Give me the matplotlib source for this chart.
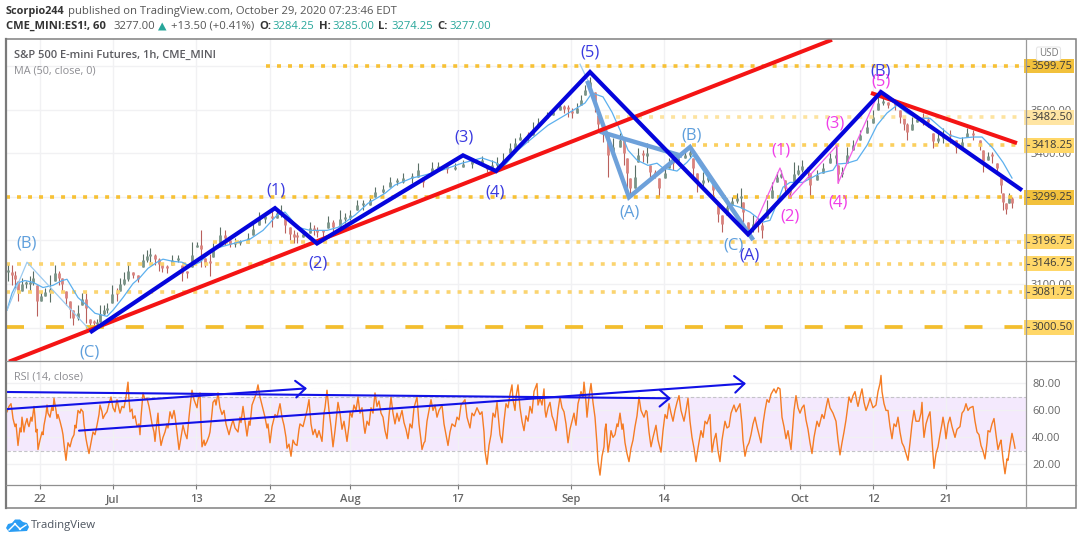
import matplotlib
matplotlib.use("Agg")
import matplotlib.pyplot as plt
from matplotlib.patches import Rectangle, Polygon, FancyBboxPatch, Circle

plt.rcParams["font.family"] = ["Open Sans", "DejaVu Sans"]

# time axis
tick_pos = [40, 113, 196, 270, 350, 458, 571, 664, 800, 873, 946]
tick_names = ["22", "Jul", "13", "22", "Aug", "17", "Sep", "14", "Oct", "12", "21"]

# S&P e-mini candles, sampled
bar_t = [8, 12, 15, 18, 22, 26, 30, 33, 37, 41, 45, 50, 55, 59, 62, 66, 70, 73, 78, 82, 86, 90, 94, 97, 100, 104, 107,
         112, 117, 120, 124, 128, 133, 138, 143, 147, 150, 155, 159, 162, 167, 172, 178, 182, 187, 192, 197, 201, 205,
         210, 213, 220, 225, 230, 235, 240, 248, 253, 259, 265, 272, 277, 281, 285, 290, 294, 297, 303, 310, 314, 317,
         323, 328, 333, 340, 345, 350, 357, 363, 370, 375, 383, 390, 397, 403, 412, 418, 423, 432, 438, 447, 455, 463,
         472, 482, 487, 492, 497, 503, 510, 515, 520, 528, 533, 538, 547, 553, 560, 564, 568, 572, 577, 581, 585, 590,
         595, 598, 603, 608, 613, 620, 624, 627, 630, 635, 638, 643, 647, 650, 655, 659, 665, 669, 673, 678, 685, 690,
         693, 697, 703, 708, 713, 718, 722, 727, 732, 737, 741, 743, 748, 753, 758, 762, 767, 772, 777, 781, 785, 790,
         794, 798, 802, 808, 810, 817, 823, 830, 836, 838, 842, 847, 853, 860, 867, 873, 878, 883, 888, 895, 900, 904,
         907, 912, 917, 923, 928, 933, 938, 943, 950, 956, 962, 967, 973, 980, 983, 988, 992, 997, 1001, 1003, 1006,
         1009, 1012]
bar_high = [3147, 3143, 3131, 3108, 3113, 3108, 3118, 3131, 3097, 3085, 3090, 3120, 3143, 3131, 3115, 3085, 3062, 3040,
            3051, 3079, 3079, 3021, 3017, 3021, 3051, 3051, 3056, 3097, 3090, 3113, 3127, 3150, 3127, 3120, 3170, 3177,
            3182, 3170, 3159, 3148, 3143, 3166, 3166, 3143, 3131, 3196, 3196, 3223, 3159, 3170, 3196, 3230, 3223, 3200,
            3205, 3200, 3216, 3239, 3265, 3262, 3269, 3274, 3281, 3253, 3230, 3223, 3219, 3223, 3242, 3235, 3230, 3223,
            3255, 3246, 3269, 3262, 3269, 3292, 3292, 3304, 3322, 3327, 3345, 3343, 3354, 3354, 3377, 3345, 3379, 3379,
            3372, 3377, 3384, 3389, 3393, 3372, 3384, 3391, 3400, 3423, 3434, 3446, 3448, 3471, 3480, 3494, 3503, 3517,
            3510, 3510, 3503, 3515, 3533, 3556, 3575, 3540, 3487, 3464, 3446, 3434, 3446, 3430, 3389, 3343, 3372, 3411,
            3407, 3423, 3372, 3361, 3343, 3366, 3389, 3391, 3400, 3402, 3414, 3389, 3354, 3356, 3356, 3333, 3281, 3258,
            3297, 3299, 3308, 3320, 3288, 3242, 3258, 3251, 3242, 3292, 3333, 3356, 3361, 3338, 3320, 3379, 3372, 3384,
            3368, 3354, 3361, 3377, 3400, 3418, 3372, 3368, 3414, 3430, 3453, 3476, 3499, 3529, 3529, 3517, 3515, 3499,
            3480, 3469, 3483, 3487, 3492, 3483, 3446, 3446, 3457, 3453, 3430, 3437, 3457, 3453, 3430, 3407, 3402, 3402,
            3377, 3345, 3308, 3285, 3308, 3299]
bar_low = [3108, 3097, 3092, 3062, 3085, 3092, 3085, 3097, 3026, 3062, 3072, 3058, 3108, 3097, 3085, 3051, 3023, 3005,
           3017, 3051, 3010, 3000, 3000, 3005, 3012, 3028, 3033, 3056, 3062, 3085, 3097, 3108, 3115, 3104, 3138, 3150,
           3150, 3143, 3131, 3127, 3125, 3143, 3150, 3108, 3113, 3138, 3184, 3138, 3138, 3118, 3161, 3193, 3189, 3184,
           3184, 3189, 3193, 3212, 3235, 3239, 3230, 3251, 3253, 3216, 3200, 3193, 3193, 3207, 3216, 3212, 3207, 3207,
           3228, 3216, 3230, 3239, 3246, 3269, 3269, 3281, 3299, 3308, 3322, 3327, 3331, 3331, 3345, 3322, 3354, 3361,
           3354, 3361, 3368, 3366, 3377, 3356, 3361, 3361, 3368, 3400, 3411, 3430, 3425, 3441, 3460, 3480, 3487, 3499,
           3492, 3483, 3480, 3492, 3510, 3533, 3551, 3494, 3448, 3425, 3345, 3395, 3414, 3372, 3320, 3299, 3320, 3379,
           3379, 3377, 3343, 3343, 3299, 3343, 3366, 3361, 3377, 3389, 3391, 3343, 3310, 3320, 3333, 3297, 3242, 3219,
           3258, 3281, 3285, 3274, 3242, 3212, 3219, 3219, 3205, 3251, 3297, 3333, 3343, 3304, 3297, 3327, 3350, 3356,
           3343, 3299, 3338, 3354, 3377, 3372, 3331, 3345, 3377, 3407, 3430, 3446, 3469, 3499, 3510, 3503, 3499, 3469,
           3453, 3430, 3453, 3471, 3464, 3460, 3411, 3423, 3423, 3423, 3400, 3414, 3437, 3430, 3407, 3356, 3384, 3377,
           3354, 3308, 3269, 3260, 3285, 3274]

# 50 period moving average
ma_t = [7, 12, 17, 25, 33, 43, 53, 62, 67, 72, 78, 87, 95, 107, 113, 123, 133, 140, 148, 157, 163, 173, 182, 190, 200,
        213, 227, 250, 263, 277, 285, 298, 310, 327, 338, 355, 368, 385, 395, 412, 425, 442, 462, 482, 495, 503, 518,
        532, 548, 565, 585, 592, 603, 612, 620, 628, 637, 648, 657, 663, 677, 687, 693, 703, 713, 727, 740, 750, 763,
        770, 777, 783, 790, 803, 820, 833, 837, 847, 857, 867, 877, 887, 897, 907, 917, 930, 940, 950, 960, 973, 982,
        993, 1003, 1012]
ma_val = [3040, 3079, 3102, 3108, 3104, 3092, 3097, 3108, 3111, 3092, 3069, 3051, 3033, 3026, 3040, 3069, 3101, 3115,
          3136, 3150, 3157, 3152, 3150, 3141, 3150, 3180, 3189, 3203, 3223, 3258, 3265, 3230, 3223, 3223, 3230, 3258,
          3285, 3308, 3327, 3343, 3350, 3361, 3377, 3389, 3379, 3368, 3407, 3434, 3464, 3487, 3515, 3538, 3529, 3494,
          3453, 3407, 3384, 3372, 3377, 3366, 3359, 3379, 3395, 3361, 3327, 3285, 3276, 3265, 3242, 3246, 3285, 3322,
          3333, 3333, 3354, 3361, 3375, 3377, 3384, 3418, 3464, 3492, 3510, 3492, 3480, 3480, 3460, 3441, 3434, 3437,
          3437, 3411, 3379, 3343]

# RSI (14)
rsi_t = [7, 9, 11, 12, 13, 15, 16, 18, 20, 21, 22, 24,
         25, 27, 28, 29, 31, 32, 34, 35, 36, 37, 38, 40,
         42, 43, 44, 46, 47, 48, 50, 52, 53, 54, 56, 57,
         58, 60, 62, 63, 64, 66, 67, 68, 70, 72, 74, 75,
         76, 78, 80, 81, 83, 84, 86, 87, 89, 91, 93, 95,
         97, 99, 100, 102, 103, 105, 107, 109, 111, 113, 115, 116,
         117, 119, 120, 122, 124, 126, 128, 129, 130, 132, 133, 135,
         137, 139, 140, 141, 143, 145, 147, 149, 150, 152, 154, 155,
         156, 158, 159, 161, 163, 165, 167, 168, 170, 172, 174, 175,
         177, 179, 181, 183, 185, 187, 189, 190, 192, 194, 197, 198,
         200, 201, 202, 204, 205, 207, 209, 210, 212, 213, 215, 216,
         218, 220, 222, 224, 226, 229, 231, 233, 235, 238, 240, 241,
         243, 245, 247, 249, 250, 252, 254, 256, 258, 260, 263, 265,
         267, 268, 270, 272, 275, 277, 280, 282, 284, 286, 287, 289,
         291, 292, 293, 295, 297, 299, 300, 303, 305, 307, 309, 311,
         313, 315, 317, 319, 322, 324, 325, 327, 329, 331, 333, 335,
         336, 338, 340, 342, 344, 347, 349, 350, 352, 354, 356, 358,
         360, 362, 364, 365, 367, 369, 371, 373, 375, 377, 379, 381,
         383, 385, 387, 389, 391, 393, 395, 397, 399, 402, 404, 406,
         408, 410, 412, 414, 417, 419, 421, 422, 424, 425, 427, 429,
         431, 433, 435, 437, 439, 442, 444, 446, 448, 450, 452, 455,
         457, 459, 461, 465, 467, 470, 472, 474, 477, 480, 482, 484,
         485, 487, 489, 491, 493, 495, 497, 499, 500, 502, 504, 506,
         508, 510, 512, 513, 515, 516, 518, 520, 522, 524, 526, 528,
         530, 532, 534, 537, 538,
         540, 542, 544, 545, 546, 548, 550, 552, 554, 556, 558, 560,
         562, 564, 566, 568, 570, 572, 574, 575, 576, 578, 581, 583,
         584, 586, 587, 589, 591, 593, 595, 597, 598, 600, 602, 604,
         605, 606, 608, 610, 611, 613, 615, 617, 618, 620, 622, 623,
         625, 627, 629, 631, 633, 635, 637, 639, 641, 644, 646, 647,
         649, 651, 653, 656, 658, 661, 663, 665, 667, 669, 671, 673,
         675, 677, 679, 681, 684, 686, 688, 690, 692, 694, 696, 698,
         701, 703, 705, 707, 710, 711, 712, 714, 716, 718, 720, 722,
         725, 727, 729, 731, 734, 736, 738, 740, 742, 743, 745, 747,
         749, 751, 753, 755, 757, 759, 761, 763, 765, 767, 769, 771,
         774, 776, 778, 780, 782, 784, 786, 788, 791, 793, 794, 796,
         798, 800, 802, 804, 806, 808, 810, 812, 814, 817, 819, 822,
         824, 826, 828, 830, 833, 836, 838, 840, 842, 844, 846, 848,
         849, 851, 853, 855, 857, 858, 860, 862, 864, 866, 868, 870,
         873, 876, 878, 880, 881, 882, 884, 886, 888, 890, 892, 894,
         896, 898, 900, 902, 904, 906, 908, 910, 912, 914, 916, 919,
         921, 922, 923, 924, 926, 928, 930, 932, 934, 936, 938, 940,
         942, 943, 945, 946, 948, 950, 952, 955, 957, 960, 962, 964,
         966, 968, 970, 973, 975, 977, 979, 981, 983, 985, 987, 988,
         990, 992, 994, 996, 998, 1000, 1001, 1003, 1005, 1007, 1008, 1010,
         1012, 1014, 1015]
rsi_val = [59, 63, 65, 60, 54, 48, 50, 34, 47, 44, 55, 44,
           49, 54, 50, 48, 55, 52, 63, 55, 44, 46, 31, 38,
           44, 42, 49, 57, 64, 58, 55, 63, 60, 69, 60, 54,
           57, 52, 46, 42, 35, 23, 30, 36, 33, 39, 42, 49,
           47, 60, 58, 61, 59, 50, 39, 35, 28, 36, 44, 42,
           49, 57, 64, 59, 54, 57, 59, 65, 70, 62, 59, 64,
           68, 61, 58, 63, 62, 70, 81, 68, 59, 61, 54, 56,
           48, 50, 42, 55, 73, 68, 69, 63, 59, 50, 44, 37,
           45, 58, 46, 34, 40, 44, 50, 47, 59, 54, 60, 56,
           44, 31, 40, 49, 43, 39, 55, 62, 75, 68, 62, 68,
           73, 50, 33, 38, 34, 37, 41, 44, 58, 66, 68, 64,
           73, 62, 57, 60, 50, 42, 48, 53, 47, 44, 55, 51,
           63, 52, 41, 52, 49, 64, 68, 72, 79, 70, 61, 55,
           47, 50, 36, 48, 57, 55, 65, 55, 49, 40, 32, 35,
           26, 32, 38, 35, 34, 46, 50, 48, 54, 60, 68, 50,
           42, 46, 40, 45, 37, 58, 62, 75, 60, 48, 33, 45,
           52, 66, 58, 46, 52, 37, 49, 59, 55, 64, 60, 70,
           58, 62, 48, 43, 52, 49, 62, 58, 73, 63, 67, 58,
           55, 45, 39, 56, 70, 58, 50, 58, 52, 60, 51, 46,
           39, 50, 47, 62, 70, 50, 38, 31, 36, 37, 52, 60,
           68, 60, 64, 55, 60, 64, 50, 42, 34, 44, 50, 48,
           55, 53, 64, 68, 55, 47, 58, 56, 62, 57, 59, 44,
           30, 20, 34, 42, 58, 55, 66, 50, 42, 36, 52, 65,
           62, 72, 79, 68, 60, 70, 79, 62, 52, 45, 56, 52,
           63, 58, 74, 80, 64,
           69, 64, 76, 60, 55, 62, 66, 56, 52, 45, 60, 70,
           62, 59, 50, 36, 46, 52, 58, 53, 49, 65, 74, 70,
           81, 66, 55, 70, 80, 66, 55, 35, 22, 12, 26, 33,
           46, 50, 29, 38, 45, 40, 42, 50, 48, 58, 46, 50,
           36, 28, 22, 32, 38, 48, 56, 70, 60, 55, 60, 59,
           44, 33, 40, 49, 38, 29, 45, 57, 54, 65, 58, 52,
           60, 66, 71, 60, 52, 60, 69, 52, 40, 32, 22, 32,
           45, 40, 52, 50, 57, 42, 29, 38, 43, 30, 22, 38,
           52, 47, 48, 58, 64, 59, 62, 65, 50, 38, 26, 33,
           36, 42, 50, 55, 48, 42, 36, 50, 60, 68, 66, 72,
           76, 73, 77, 76, 55, 48, 39, 45, 31, 50, 60, 71,
           62, 58, 62, 64, 53, 46, 36, 28, 40, 52, 48, 57,
           54, 62, 69, 62, 58, 52, 38, 27, 36, 44, 53, 64,
           70, 66, 71, 74, 66, 63, 70, 76, 66, 60, 64, 69,
           62, 64, 74, 80, 86, 74, 65, 60, 60, 48, 39, 50,
           48, 55, 44, 36, 33, 28, 23, 36, 50, 60, 52, 52,
           58, 66, 50, 40, 50, 55, 59, 38, 17, 28, 33, 42,
           50, 55, 46, 39, 50, 55, 48, 40, 46, 48, 58, 60,
           65, 60, 62, 63, 52, 44, 42, 34, 30, 24, 36, 45,
           44, 50, 54, 42, 31, 36, 38, 24, 13, 24, 23, 34,
           43, 36, 32]

# price levels: value, first time position, dash kind, label colour
level_val = [3599.75, 3482.50, 3418.25, 3299.25, 3196.75, 3146.75, 3081.75, 3000.50]
level_start = [266, 605, 670, 6.5, 213, 6.5, 6.5, 6.5]
level_line = ["#f7c136", "#fde3a0", "#fbcf5e", "#f7c136", "#fbd470", "#fbd470", "#fbd470", "#f3be2e"]
level_box = ["#f2c13c", "#ffe5a3", "#ffd768", "#f2c13c", "#ffd768", "#ffd768", "#ffd768", "#ffd768"]

# drawn wave counts and trend lines
wave_t = [90, 275, 317, 463, 496, 590, 748, 881, 1022]
wave_p = [2989, 3274, 3193, 3395, 3359, 3586, 3214, 3540, 3315]
abc_t = [588, 629, 690, 752]
abc_p = [3561, 3299, 3414, 3205]
abc2_t = [602, 680]
abc2_p = [3448, 3395]
red_t = [9, 832]
red_p = [2922, 3660]
red2_t = [871, 1017]
red2_p = [3538, 3423]
thin_t = [7, 27, 90]
thin_p = [3040, 3150, 2994]
thin2_t = [580, 590]
thin2_p = [3604, 3556]
pink_t = [750, 780, 790, 837, 838, 880]
pink_p = [3212, 3366, 3299, 3418, 3331, 3545]

BLUE = "#3a3ae0"
LIGHT = "#5f9fdc"
PINK = "#f03ee8"
label_text = ["(B)", "(C)", "(1)", "(2)", "(3)", "(4)", "(5)", "(A)", "(B)", "(C)", "(A)", "(B)", "(5)",
              "(1)", "(2)", "(3)", "(4)"]
label_t = [27, 90, 276, 318, 464, 495, 590, 630, 692, 734, 749, 881, 881, 781, 790, 835, 838]
label_p = [3193, 2943, 3315, 3147, 3437, 3310, 3630, 3265, 3441, 3189, 3166, 3588, 3565, 3407, 3255, 3469, 3287]
label_col = [LIGHT, LIGHT, BLUE, BLUE, BLUE, BLUE, BLUE, LIGHT, LIGHT, LIGHT, BLUE, BLUE, PINK, PINK, PINK, PINK, PINK]

# rsi arrows: start t, start value, end t, end value
arrow_t0 = [6.5, 6.5, 79]
arrow_v0 = [73.7, 61, 45]
arrow_t1 = [671, 307, 746]
arrow_v1 = [69, 76.4, 80]

W, H = 1080, 542
fig = plt.figure(figsize=(W / 100, H / 100), dpi=100, facecolor="white")


def add_axes(x0, y0, x1, y1):
    return fig.add_axes([x0 / W, 1 - y1 / H, (x1 - x0) / W, (y1 - y0) / H])


GRID = "#f1f1f3"

ax = add_axes(6.5, 39, 1026, 361)
ax.set_xlim(6.5, 1026)
ax.set_ylim(2923.6, 3661.7)
ax_rsi = add_axes(6.5, 361, 1026, 484)
ax_rsi.set_xlim(6.5, 1026)
ax_rsi.set_ylim(5.4, 96.7)

for a in (ax, ax_rsi):
    a.set_axisbelow(True)
    a.grid(True, color=GRID, lw=1)
    a.yaxis.tick_right()
    a.set_xticks(tick_pos)
    for s in a.spines.values():
        s.set_visible(False)

ax.tick_params(axis="x", length=0, labelbottom=False)
ax.set_yticks([3000, 3100, 3200, 3300, 3400, 3500, 3600])
ax.set_yticklabels(["%.2f" % v for v in [3000, 3100, 3200, 3300, 3400, 3500, 3600]])
ax.tick_params(axis="y", length=0, pad=3.5, labelsize=8, labelcolor="#666666")

ax_rsi.set_yticks([20, 40, 60, 80])
ax_rsi.set_yticklabels(["20.00", "40.00", "60.00", "80.00"])
ax_rsi.tick_params(axis="y", length=0, pad=4.5, labelsize=8, labelcolor="#666666")
ax_rsi.set_xticklabels(tick_names, fontsize=8, color="#666666", fontweight="semibold")
ax_rsi.tick_params(axis="x", length=3.5, width=0.8, color="#777777", pad=4)

# candles, each opening at the previous bar's mid
mids = [(h + l) / 2 for h, l in zip(bar_high, bar_low)]
for i, (t, h, l) in enumerate(zip(bar_t, bar_high, bar_low)):
    op = mids[i - 1] if i else mids[0]
    op = min(h, max(l, op))
    cl = mids[i]
    up = cl >= op
    ax.vlines(t, l, h, color="#5b6f66" if up else "#b9605c", lw=0.8, zorder=2)
    if abs(cl - op) < 5:
        cl = op + 5
    ax.vlines(t, min(op, cl), max(op, cl), color="#7a9488" if up else "#d9837e", lw=2.0, zorder=2.1)

ax.plot(ma_t, ma_val, color="#5cb0ee", lw=0.9, zorder=3)

# horizontal levels
for val, start, col in zip(level_val, level_start, level_line):
    if val == 3000.50:
        ax.plot([start, 1026], [val, val], color=col, lw=2.7, ls=(0, (4.8, 5.85)), zorder=2.5, dash_capstyle="butt")
    else:
        ax.plot([start, 1022], [val, val], color=col, lw=2.6, ls=(0, (1.1, 1.95)), zorder=2.5, dash_capstyle="butt")

ax.plot(thin_t, thin_p, color="#9ccbf0", lw=0.9, zorder=3)
ax.plot(thin2_t, thin2_p, color="#9ccbf0", lw=0.9, zorder=3)
ax.plot(pink_t, pink_p, color="#f25fe8", lw=0.9, zorder=3)
ax.plot(abc_t, abc_p, color="#6ea1da", lw=3.2, zorder=4, solid_joinstyle="miter")
ax.plot(abc2_t, abc2_p, color="#6ea1da", lw=3.2, zorder=4)
ax.plot(red_t, red_p, color="#f41414", lw=2.9, zorder=5, solid_capstyle="butt")
ax.plot(red2_t, red2_p, color="#f41414", lw=2.9, zorder=5, solid_capstyle="butt")
ax.plot(wave_t, wave_p, color="#0505dc", lw=3.0, zorder=6, solid_joinstyle="miter", solid_capstyle="butt")

for txt, t, p, c in zip(label_text, label_t, label_p, label_col):
    ax.text(t, p, txt, color=c, fontsize=12, ha="center", va="center", zorder=7)

# price scale tags
for val, col in zip(level_val, level_box):
    ax.add_patch(Rectangle((1024, val - 17), 50, 34, fc=col, ec="none", clip_on=False, zorder=8))
    ax.text(1031.5, val, "%.2f" % val, fontsize=8, color="#3a3a3a", ha="left", va="center", clip_on=False, zorder=9)
    ax.plot([1026, 1029], [val, val], color="#555555", lw=0.8, clip_on=False, zorder=9)

# rsi pane
ax_rsi.axhspan(30, 70, color="#f4e9fd", lw=0, zorder=0.5)
ax_rsi.axhline(70, color="#c4c4c8", lw=0.8, ls=(0, (3, 2)), zorder=1)
ax_rsi.axhline(30, color="#c4c4c8", lw=0.8, ls=(0, (3, 2)), zorder=1)
ax_rsi.plot(rsi_t, rsi_val, color="#f57c24", lw=1.0, zorder=3)

for t0, v0, t1, v1 in zip(arrow_t0, arrow_v0, arrow_t1, arrow_v1):
    ax_rsi.annotate("", xy=(t1, v1), xytext=(t0, v0), zorder=5,
                    arrowprops=dict(arrowstyle="->,head_length=0.7,head_width=0.6", color="#1111e6", lw=1.5,
                                    mutation_scale=10, shrinkA=0, shrinkB=0))

# page furniture in pixel coordinates
page = fig.add_axes([0, 0, 1, 1], facecolor="none", zorder=20)
page.set_xlim(0, W)
page.set_ylim(H, 0)
page.axis("off")

page.add_patch(Rectangle((6, 39), 1070, 469, fc="none", ec="#808080", lw=1.1))
page.plot([6, 6], [39, 508], color="#7a7a7a", lw=1.6)
page.plot([1026, 1026], [39, 508], color="#9a9a9a", lw=0.9)
page.plot([6, 1076], [361, 361], color="#8f8f8f", lw=0.9)
page.plot([6, 1076], [484.5, 484.5], color="#8f8f8f", lw=0.9)

BLK = "#333333"
TEAL = "#27a69a"
GREY = "#555555"
page.text(6, 11.5, "Scorpio244", fontsize=7.8, color=BLK, fontweight="bold", va="center")
page.text(68.5, 11.5, "published on TradingView.com, October 29, 2020 07:23:46 EDT", fontsize=8.1, color=GREY,
          va="center")

header_b = [(6, "CME_MINI:ES1!, 60", BLK, "bold"), (113, "3277.00", GREY, "normal"),
            (171, "+13.50 (+0.41%)", GREY, "normal"), (259, "O:", BLK, "bold"), (272.5, "3284.25", TEAL, "normal"),
            (319, "H:", BLK, "bold"), (332, "3285.00", TEAL, "normal"), (378, "L:", BLK, "bold"),
            (391, "3274.25", TEAL, "normal"), (437, "C:", BLK, "bold"), (449.5, "3277.00", TEAL, "normal")]
for x, s, c, w in header_b:
    page.text(x, 26.5, s, fontsize=8.1, color=c, fontweight=w, va="center")
page.add_patch(Polygon([(158, 30.5), (166.5, 30.5), (162.2, 22.5)], fc=TEAL, ec="none"))

page.text(14, 55, "S&P 500 E-mini Futures, 1h, CME_MINI", fontsize=8.0, color="#5b5b60", fontweight="semibold", va="center")
page.text(14, 71, "MA (50, close, 0)", fontsize=7.8, color="#8d8d92", va="center")
page.text(14, 377, "RSI (14, close)", fontsize=7.8, color="#8d8d92", va="center")

page.add_patch(FancyBboxPatch((1037, 47.5), 23, 12.5, boxstyle="round,pad=0.5,rounding_size=2", fc="white",
                              ec="#e6e6e6", lw=0.8))
page.text(1048.5, 53.8, "USD", fontsize=7, color="#777777", ha="center", va="center")

# logo
page.add_patch(Polygon([(6, 528), (8, 524), (12, 523), (15, 519.5), (20, 519.5), (23, 522), (27, 523), (29, 527),
                        (27, 531), (9, 532)], fc="#2a9df4", ec="none"))
page.plot([9, 15, 20, 26], [530, 524, 529, 525], color="white", lw=1)
page.add_patch(Circle((15, 524), 1.2, fc="white", ec="none"))
page.add_patch(Circle((20, 529), 1.2, fc="white", ec="none"))
page.text(31, 525.5, "TradingView", fontsize=8.2, color="#4d5560", va="center")

fig.savefig("out.png", dpi=100, facecolor="white")
